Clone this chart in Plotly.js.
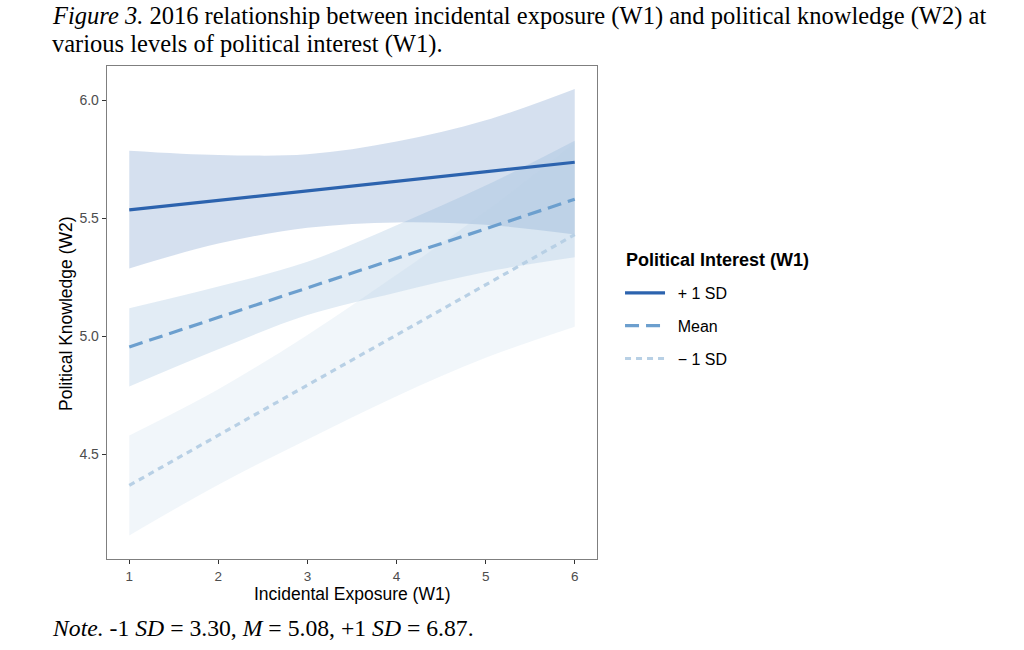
<!DOCTYPE html>
<html>
<head>
<meta charset="utf-8">
<script src="https://cdn.plot.ly/plotly-3.0.1.min.js"></script>
<style>
  html, body { margin: 0; padding: 0; background: #ffffff; }
  #chart { width: 1024px; height: 650px; }
</style>
</head>
<body>
<div id="chart"></div>
<script>
// Incidental exposure (W1) values at which predictions are shown
const exposure = [1, 2, 3, 4, 5, 6];

// Group labels (political interest level)
const groupNames = ['+ 1 SD', 'Mean', '\u2212 1 SD'];

// Predicted political knowledge (W2) per group
const fitHigh = [5.535, 5.575, 5.615, 5.655, 5.695, 5.737];
const fitMean = [4.954, 5.079, 5.204, 5.330, 5.455, 5.580];
const fitLow  = [4.367, 4.580, 4.792, 5.005, 5.218, 5.430];

// Confidence band limits per group
const upperHigh = [5.786, 5.768, 5.771, 5.825, 5.915, 6.048];
const lowerHigh = [5.287, 5.392, 5.459, 5.482, 5.472, 5.431];
const upperMean = [5.118, 5.210, 5.315, 5.470, 5.638, 5.828];
const lowerMean = [4.786, 4.944, 5.089, 5.185, 5.272, 5.334];
const upperLow  = [4.579, 4.775, 5.005, 5.260, 5.528, 5.820];
const lowerLow  = [4.155, 4.370, 4.562, 4.745, 4.908, 5.040];

// Axis ticks
const xTicks = [1, 2, 3, 4, 5, 6];
const yTicks = [4.5, 5.0, 5.5, 6.0];
const yTickText = ['4.5', '5.0', '5.5', '6.0'];

const colors = ['rgb(44,99,174)', 'rgb(108,159,206)', 'rgb(184,208,229)'];
const fills  = ['rgba(44,99,174,0.2)', 'rgba(108,159,206,0.2)', 'rgba(184,208,229,0.2)'];
const dashes = ['solid', '14px,7px', '6px,5px'];
const fits   = [fitHigh, fitMean, fitLow];
const uppers = [upperHigh, upperMean, upperLow];
const lowers = [lowerHigh, lowerMean, lowerLow];

const traces = [];
// Bands first so the lines sit on top
for (let i = 0; i < 3; i++) {
  traces.push({
    x: exposure, y: lowers[i], type: 'scatter', mode: 'lines',
    line: {width: 0, shape: 'spline', color: 'rgba(0,0,0,0)'},
    showlegend: false, hoverinfo: 'skip'
  });
  traces.push({
    x: exposure, y: uppers[i], type: 'scatter', mode: 'lines',
    line: {width: 0, shape: 'spline', color: 'rgba(0,0,0,0)'},
    fill: 'tonexty', fillcolor: fills[i],
    showlegend: false, hoverinfo: 'skip'
  });
}
// Legend labels get a small lead-in gap after the key
const pad = '\u00a0\u2009';
for (let i = 0; i < 3; i++) {
  traces.push({
    x: exposure, y: fits[i], type: 'scatter', mode: 'lines',
    name: pad + groupNames[i], legendgroup: 'g' + i,
    line: {color: colors[i], width: 3.2, dash: dashes[i]}
  });
}

const serif = 'Liberation Serif, Times New Roman, serif';
const sans = 'Liberation Sans, Arial, Helvetica, sans-serif';

const layout = {
  width: 1024, height: 650,
  margin: {l: 107, r: 427, t: 66, b: 91},
  paper_bgcolor: '#ffffff', plot_bgcolor: '#ffffff',
  showlegend: true,
  xaxis: {
    range: [0.75, 6.25], tickvals: xTicks, ticktext: xTicks.map(String),
    showgrid: false, zeroline: false,
    showline: true, linecolor: '#7f7f7f', linewidth: 1.3, mirror: true,
    ticks: 'outside', ticklen: 4, tickcolor: '#333333', tickwidth: 1,
    tickfont: {family: sans, size: 13.5, color: '#4d4d4d'}
  },
  yaxis: {
    range: [4.055, 6.145], tickvals: yTicks, ticktext: yTickText,
    showgrid: false, zeroline: false,
    showline: true, linecolor: '#7f7f7f', linewidth: 1.3, mirror: true,
    ticks: 'outside', ticklen: 4, tickcolor: '#333333', tickwidth: 1,
    tickfont: {family: sans, size: 14, color: '#4d4d4d'}
  },
  legend: {
    x: 1.047, y: 0.574, xanchor: 'left', yanchor: 'top',
    font: {family: sans, size: 16, color: '#000000'},
    itemwidth: 40,
    tracegroupgap: 9, bgcolor: 'rgba(0,0,0,0)'
  },
  annotations: [
    // axis titles
    {xref: 'paper', yref: 'paper', x: 0.5, y: -0.071, xanchor: 'center', yanchor: 'middle', showarrow: false,
     text: 'Incidental Exposure (W1)',
     font: {family: sans, size: 17.5, color: '#000000'}},
    {xref: 'paper', yref: 'paper', x: -0.0837, y: 0.499, xanchor: 'center', yanchor: 'middle', showarrow: false,
     textangle: -90, text: 'Political Knowledge (W2)',
     font: {family: sans, size: 17.5, color: '#000000'}},
    // legend heading
    {xref: 'paper', yref: 'paper', x: 1.0551, y: 0.6065, xanchor: 'left', yanchor: 'middle', showarrow: false,
     text: '<b>Political Interest (W1)</b>',
     font: {family: sans, size: 18, color: '#000000'}},
    // figure caption and note
    {xref: 'paper', yref: 'paper', x: -0.1163, y: 1.1014, xanchor: 'left', yanchor: 'middle', showarrow: false, align: 'left',
     text: '<i>Figure 3.</i> 2016 relationship between incidental exposure (W1) and political knowledge (W2) at',
     font: {family: serif, size: 24.5, color: '#000000'}},
    {xref: 'paper', yref: 'paper', x: -0.1163, y: 1.0446, xanchor: 'left', yanchor: 'middle', showarrow: false, align: 'left',
     text: 'various levels of political interest (W1).',
     font: {family: serif, size: 24.5, color: '#000000'}},
    {xref: 'paper', yref: 'paper', x: -0.1163, y: -0.140, xanchor: 'left', yanchor: 'middle', showarrow: false, align: 'left',
     text: '<i>Note.</i> -1 <i>SD</i> = 3.30, <i>M</i> = 5.08, +1 <i>SD</i> = 6.87.',
     font: {family: serif, size: 23.7, color: '#000000'}}
  ]
};

Plotly.newPlot('chart', traces, layout, {staticPlot: true, displayModeBar: false});
</script>
</body>
</html>
